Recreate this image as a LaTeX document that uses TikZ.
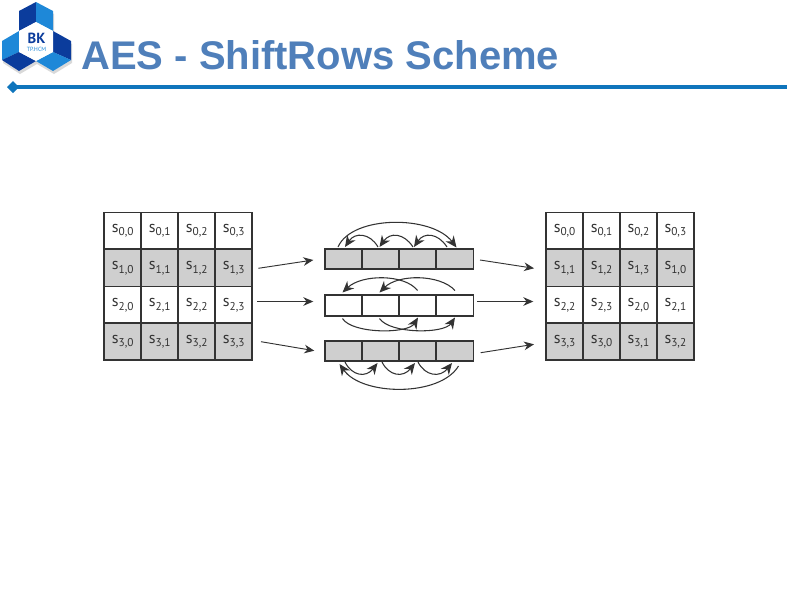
\documentclass[tikz,border=0pt]{standalone}
\usepackage{fontspec}
\setmainfont{PT Sans}
\newfontfamily\titlefont{Liberation Sans}
\usetikzlibrary{arrows.meta}
\definecolor{titleblue}{HTML}{4F7FBA}
\definecolor{rulecol}{HTML}{0F75BC}
\definecolor{navy}{HTML}{0B3C9C}
\definecolor{sky}{HTML}{1E88D8}
\definecolor{ink}{HTML}{333333}
\definecolor{shade}{HTML}{CFCFCF}
\newcommand{\slabel}[2]{s\raisebox{-2.8pt}{\fontsize{8.5}{8.5}\selectfont #1,#2}}
\tikzset{
  cell/.style={draw=ink,line width=1.3pt,minimum width=27.6pt,minimum height=27.6pt,inner sep=0pt,font=\fontsize{12}{12}\selectfont,text=ink},
  barcell/.style={draw=ink,line width=1.2pt,inner sep=0pt,minimum width=27.6pt},
  flow/.style={draw=ink,line width=0.7pt,-{Stealth[length=7.5pt,width=6.5pt]}},
  shiftarc/.style={draw=ink,line width=0.8pt,-{Stealth[length=8.5pt,width=7.5pt]}},
}
\begin{document}
\begin{tikzpicture}[x=0.75pt,y=-0.75pt]
\useasboundingbox (0,0) rectangle (800,600);
% logo
\fill[black!15] (37,5) -- (54,14) -- (54,34) -- (72,44) -- (72,63) -- (54,74) -- (37,64) -- (20,74) -- (3,63) -- (3,44) -- (20,34) -- (20,14) -- cycle;
\fill[navy] (36,2) -- (19,11) -- (19,31) -- (36,22) -- cycle;
\fill[sky] (36,2) -- (53,11) -- (53,31) -- (36,22) -- cycle;
\fill[sky] (19,31) -- (2,41) -- (2,60) -- (19,52) -- cycle;
\fill[navy] (2,60) -- (19,71) -- (36,61) -- (19,52) -- cycle;
\fill[navy] (53,31) -- (71,41) -- (71,60) -- (53,52) -- cycle;
\fill[sky] (53,52) -- (71,60) -- (53,71) -- (36,61) -- cycle;
\fill[white] (36,22) -- (53,31) -- (53,52) -- (36,61) -- (19,52) -- (19,31) -- cycle;
\node[text=navy,font=\bfseries\fontsize{11}{11}\selectfont,inner sep=0pt] (bk) at (36.5,38) {BK};
\node[text=sky,font=\fontsize{4.5}{5}\selectfont,inner sep=0pt] (tp) at (36.5,49.5) {TP.HCM};
% title
\node[anchor=base west,inner sep=0pt,text=titleblue,font=\titlefont\bfseries\fontsize{30}{30}\selectfont] (title) at (81,69) {AES - ShiftRows Scheme};
% rule
\coordinate (ruleL) at (13,87);
\coordinate (ruleR) at (787,87);
\draw[rulecol,line width=3pt] (ruleL) -- (ruleR);
\fill[rulecol] (13,81) -- (19,87) -- (13,93) -- (7,87) -- cycle;
% grids
\foreach \r/\fillc/\yy in {0/white/230.8,1/shade/268,2/white/305,3/shade/341.7}{
  \foreach \c/\xl/\xr in {0/122.7/564.6,1/159.7/601.6,2/196.7/638.4,3/233.7/675.4}{
    \pgfmathtruncatemacro{\shifted}{mod(\c+\r,4)}
    \node[cell,fill=\fillc] (L\r\c) at (\xl,\yy) {\slabel{\r}{\c}};
    \node[cell,fill=\fillc] (R\r\c) at (\xr,\yy) {\slabel{\r}{\shifted}};
  }
}
% bars
\foreach \c/\xx in {0/343.6,1/380.8,2/417.7,3/455}{
  \node[barcell,fill=shade,minimum height=14.6pt] (A\c) at (\xx,259) {};
  \node[barcell,fill=white,minimum height=15.9pt] (B\c) at (\xx,305.4) {};
  \node[barcell,fill=shade,minimum height=14.6pt] (C\c) at (\xx,351) {};
}
% flow arrows
\coordinate (la1) at (258.3,268.3); \coordinate (la2) at (313.3,260);
\coordinate (lb1) at (257.3,301.5);   \coordinate (lb2) at (313.3,301.5);
\coordinate (lc1) at (261,341.7);   \coordinate (lc2) at (314.3,350.7);
\coordinate (ra1) at (480,260);     \coordinate (ra2) at (534,268.3);
\coordinate (rb1) at (477.3,301.5);   \coordinate (rb2) at (533.3,301.5);
\coordinate (rc1) at (480.7,352.7); \coordinate (rc2) at (534,344.3);
\foreach \p in {la,lb,lc,ra,rb,rc}{ \draw[flow] (\p1) -- (\p2); }
% top bar curves
\coordinate (a0s) at (338,247); \coordinate (a0e) at (345,247);
\coordinate (a1s) at (378,247); \coordinate (a1e) at (379.5,247);
\coordinate (a2s) at (413,247); \coordinate (a2e) at (414,247);
\coordinate (a3s) at (447,247); \coordinate (a3e) at (456.5,247.5);
\draw[shiftarc] (a0s) .. controls (352,215) and (432,215) .. (a3e);
\draw[shiftarc] (a1s) .. controls (370,233) and (355,232) .. (a0e);
\draw[shiftarc] (a2s) .. controls (404,233) and (390,232) .. (a1e);
\draw[shiftarc] (a3s) .. controls (438,233) and (424,232) .. (a2e);
% middle bar curves
\coordinate (b0t) at (342.5,292.5); \coordinate (b1t) at (379.5,292.5);
\coordinate (b2t) at (417.5,290.5); \coordinate (b3t) at (455,290.5);
\coordinate (b0b) at (342.5,318.5); \coordinate (b1b) at (379.5,318.5);
\coordinate (b2b) at (418,317.5); \coordinate (b3b) at (455,317.5);
\draw[shiftarc] (b2t) .. controls (405,274) and (362,274) .. (b0t);
\draw[shiftarc] (b3t) .. controls (440,274) and (398,274) .. (b1t);
\draw[shiftarc] (b0b) .. controls (352,334) and (408,334) .. (b2b);
\draw[shiftarc] (b1b) .. controls (390,334) and (444,334) .. (b3b);
% bottom bar curves
\coordinate (c0s) at (345,362); \coordinate (c0e) at (377.5,363);
\coordinate (c1s) at (382,362); \coordinate (c1e) at (415,363);
\coordinate (c2s) at (418,362); \coordinate (c2e) at (452,363);
\coordinate (c3s) at (458.5,366); \coordinate (c3e) at (339.5,364);
\draw[shiftarc] (c0s) .. controls (352,376) and (366,378) .. (c0e);
\draw[shiftarc] (c1s) .. controls (389,376) and (403,378) .. (c1e);
\draw[shiftarc] (c2s) .. controls (425,376) and (440,378) .. (c2e);
\draw[shiftarc] (c3s) .. controls (440,397) and (362,396) .. (c3e);
\end{tikzpicture}
\end{document}
